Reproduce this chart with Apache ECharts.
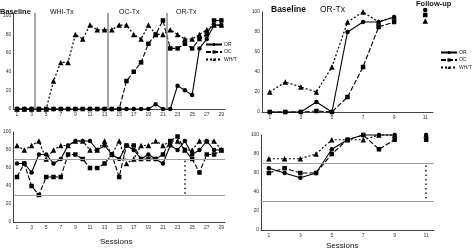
<!DOCTYPE html>
<html>
<head>
<meta charset="utf-8">
<script src="https://cdn.jsdelivr.net/npm/echarts@6/dist/echarts.min.js"></script>
<style>
  html, body { margin: 0; padding: 0; background: #fff; }
  #chart { width: 474px; height: 249px; }
</style>
</head>
<body>
<div id="chart"></div>
<script>
// sessions
const sessionsLeft = [1, 2, 3, 4, 5, 6, 7, 8, 9, 10, 11, 12, 13, 14, 15, 16, 17, 18, 19, 20, 21, 22, 23, 24, 25, 26, 27, 28, 29];
const sessionsRight = [1, 2, 3, 4, 5, 6, 7, 8, 9, 10, 11];
const leftTicks = [1, 3, 5, 7, 9, 11, 13, 15, 17, 19, 21, 23, 25, 27, 29];
const rightTicks = [1, 3, 5, 7, 9, 11];
const yTicks = [0, 20, 40, 60, 80, 100];

// top left (accuracy)
const tlOR = [0, 0, 0, 0, 0, 0, 0, 0, 0, 0, 0, 0, 0, 0, 0, 0, 0, 0, 0, 5, 0, 0, 25, 20, 15, 65, 75, 90, 90];
const tlOC = [0, 0, 0, 0, 0, 0, 0, 0, 0, 0, 0, 0, 0, 0, 0, 30, 40, 50, 70, 80, 95, 65, 65, 70, 65, 75, 80, 95, 95];
const tlWHT = [0, 0, 0, 0, 0, 30, 50, 50, 80, 75, 90, 85, 85, 85, 90, 90, 80, 75, 90, 80, 80, 85, 80, 75, 75, 80, 85, 90, 90];

// bottom left
const blOR = [65, 65, 55, 75, 75, 65, 70, 85, 90, 90, 90, 80, 85, 75, 70, 85, 80, 70, 75, 70, 65, 85, 80, 90, 75, 80, 90, 80, 80];
const blOC = [50, 65, 40, 30, 50, 50, 50, 75, 75, 70, 60, 60, 65, 75, 50, 85, 85, 70, 70, 70, 75, 90, 95, 80, 70, 55, 75, 75, 80];
const blWHT = [85, 80, 85, 90, 70, 80, 85, 85, 90, 90, 80, 80, 90, 75, 90, 65, 70, 85, 85, 90, 85, 90, 90, 80, 80, 90, 90, 90, 80];

// top right (session 10 empty, 11 = follow-up)
const trOR = [0, 0, 0, 10, 0, 80, 90, 90, 95, null, 102];
const trOC = [0, 0, 0, 1, 0, 15, 45, 85, 90, null, 97];
const trWHT = [20, 30, 25, 20, 45, 90, 100, 90, 95, null, 91];

// bottom right
const brOR = [65, 60, 55, 60, 85, 95, 100, 100, 100, null, 100];
const brOC = [60, 65, 60, 60, 80, 95, 100, 85, 95, null, 95];
const brWHT = [75, 75, 75, 80, 95, 95, 95, 100, 100, null, 100];

const leftPhases = [3.5, 13.5, 21.5];
const rightPhases = [3.5, 10];
const criteria = [70, 30];

const pairs = (xs, ys) => ys.map((v, i) => [xs[i], v]);

const styles = {
  OR: { symbol: 'circle', symbolSize: 4.5, lineStyle: { color: '#000', width: 1.1, type: 'solid' } },
  OC: { symbol: 'rect', symbolSize: 4.5, lineStyle: { color: '#000', width: 1.1, type: [5, 2] } },
  'WH/T': { symbol: 'triangle', symbolSize: 5.5, lineStyle: { color: '#000', width: 1.2, type: [2, 2] } }
};

const makeSeries = (name, idx, xs, ys, extra) => Object.assign({
  name: name,
  type: 'line',
  xAxisIndex: idx,
  yAxisIndex: idx,
  data: pairs(xs, ys),
  symbol: styles[name].symbol,
  symbolSize: styles[name].symbolSize,
  itemStyle: { color: '#000' },
  lineStyle: styles[name].lineStyle,
  clip: false,
  silent: true,
  animation: false,
  z: name === 'OR' ? 4 : 3
}, extra || {});

const phaseMark = (phases, y0, y1) => ({
  silent: true,
  symbol: 'none',
  label: { show: false },
  lineStyle: { color: '#8a8a8a', width: 1.5, type: 'solid' },
  data: phases.map(p => [{ coord: [p, y0] }, { coord: [p, y1] }])
});

const criteriaMark = (extraLines) => ({
  silent: true,
  symbol: 'none',
  label: { show: false },
  lineStyle: { color: '#a0a0a0', width: 1, type: 'solid' },
  data: criteria.map(c => ({ yAxis: c })).concat(extraLines || [])
});

const dottedLine = (x) => [
  { coord: [x, 68], lineStyle: { color: '#222', width: 1.6, type: [1.5, 3] } },
  { coord: [x, 31] }
];

const xAxisBase = (idx, min, max, ticks) => ({
  type: 'value',
  gridIndex: idx,
  min: min,
  max: max,
  splitLine: { show: false },
  axisTick: { show: false },
  axisLine: { lineStyle: { color: '#444', width: 1 } },
  axisLabel: { customValues: ticks, fontSize: 5, color: '#333', margin: 3, fontFamily: 'Arial' }
});

const yAxisBase = (idx, max) => ({
  type: 'value',
  gridIndex: idx,
  min: 0,
  max: max,
  splitLine: { show: false },
  axisTick: { show: false },
  axisLine: { show: true, lineStyle: { color: '#444', width: 1 } },
  axisLabel: { customValues: yTicks, fontSize: 5, color: '#333', margin: 2, fontFamily: 'Arial' }
});

const legendBase = (left, top) => ({
  left: left,
  top: top,
  orient: 'vertical',
  selectedMode: false,
  itemWidth: 16,
  itemHeight: 4,
  itemGap: 2.5,
  padding: 0,
  textStyle: { fontSize: 5, color: '#222', fontFamily: 'Arial', padding: [0, 0, 0, -3] },
  data: ['OR', 'OC', 'WH/T']
});

const label = (text, x, y, size, bold) => ({
  type: 'text',
  left: x,
  top: y,
  style: { text: text, fontSize: size, fontWeight: bold ? 'bold' : 'normal', fill: '#111', fontFamily: 'Arial' }
});

const chart = echarts.init(document.getElementById('chart'));
chart.setOption({
  animation: false,
  backgroundColor: '#fff',
  grid: [
    { left: 12, top: 13, width: 213, height: 96 },
    { left: 13, top: 132, width: 212, height: 90 },
    { left: 262, top: 12, width: 171, height: 100 },
    { left: 261, top: 135, width: 173, height: 95 }
  ],
  xAxis: [
    xAxisBase(0, 0.5, 29.5, leftTicks),
    xAxisBase(1, 0.5, 29.5, leftTicks),
    xAxisBase(2, 0.5, 11.5, rightTicks),
    xAxisBase(3, 0.5, 11.5, rightTicks)
  ],
  yAxis: [
    yAxisBase(0, 103),
    yAxisBase(1, 100),
    yAxisBase(2, 100),
    yAxisBase(3, 100)
  ],
  legend: [legendBase(205, 42), legendBase(440, 50)],
  graphic: [
    label('Baseline', 0, 8, 7.5, true),
    label('WHI-Tx', 50, 9, 7, false),
    label('OC-Tx', 119, 9, 7, false),
    label('OR-Tx', 176, 9, 7, false),
    label('Sessions', 100, 238, 8, false),
    label('Baseline', 271, 5, 8.5, true),
    label('OR-Tx', 320, 5, 8.5, false),
    label('Follow-up', 416, 0, 7.5, true),
    label('Sessions', 326, 242, 8, false)
  ],
  series: [
    makeSeries('OR', 0, sessionsLeft, tlOR, { markLine: phaseMark(leftPhases, 0, 103) }),
    makeSeries('OC', 0, sessionsLeft, tlOC),
    makeSeries('WH/T', 0, sessionsLeft, tlWHT),
    makeSeries('OR', 1, sessionsLeft, blOR, { markLine: criteriaMark([dottedLine(24)]) }),
    makeSeries('OC', 1, sessionsLeft, blOC),
    makeSeries('WH/T', 1, sessionsLeft, blWHT),
    makeSeries('OR', 2, sessionsRight, trOR, { markLine: phaseMark(rightPhases, 0, 107) }),
    makeSeries('OC', 2, sessionsRight, trOC),
    makeSeries('WH/T', 2, sessionsRight, trWHT),
    makeSeries('OR', 3, sessionsRight, brOR, { markLine: criteriaMark([dottedLine(11)]) }),
    makeSeries('OC', 3, sessionsRight, brOC),
    makeSeries('WH/T', 3, sessionsRight, brWHT)
  ]
});
</script>
</body>
</html>
